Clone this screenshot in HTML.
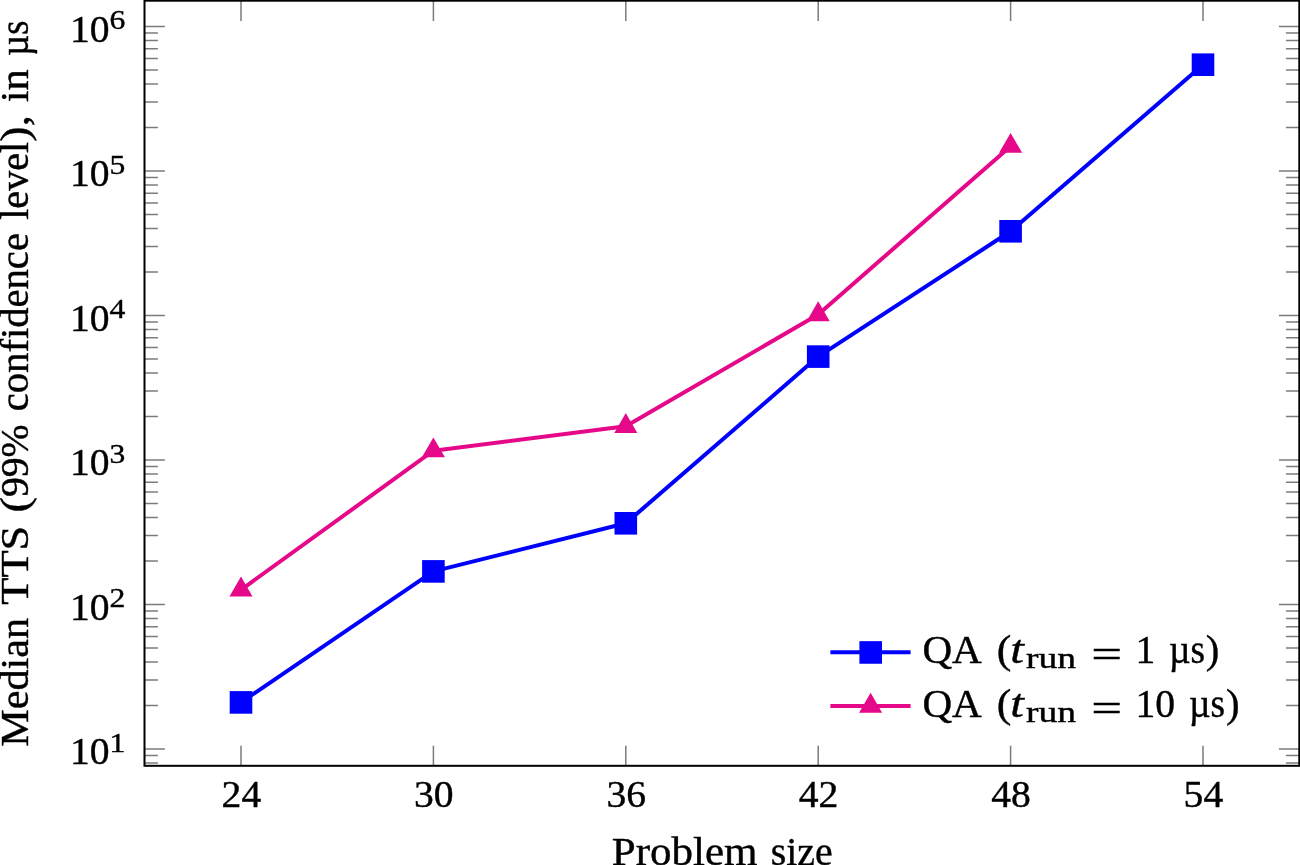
<!DOCTYPE html>
<html lang="en"><head><meta charset="utf-8"><title>Median TTS vs problem size</title>
<style>html,body{margin:0;padding:0;background:#fff;overflow:hidden}svg{display:block}text{fill:#000;stroke:#000;stroke-width:0.4px}</style></head><body>
<svg width="1300" height="865" viewBox="0 0 1300 865" font-family="'Liberation Serif', 'DejaVu Serif', serif">
<rect x="0" y="0" width="1300" height="865" fill="#fff"/>
<path stroke="#7c7c7c" stroke-width="1.5" fill="none" d="M241.00 765.80V745.80M241.00 0.70V21.00M433.40 765.80V745.80M433.40 0.70V21.00M625.80 765.80V745.80M625.80 0.70V21.00M818.20 765.80V745.80M818.20 0.70V21.00M1010.60 765.80V745.80M1010.60 0.70V21.00M1203.00 765.80V745.80M1203.00 0.70V21.00M144.50 762.96h13.4M1299.30 762.96h-13.4M144.50 755.57h13.4M1299.30 755.57h-13.4M144.50 748.96h20.4M1299.30 748.96h-20.4M144.50 705.46h13.4M1299.30 705.46h-13.4M144.50 680.02h13.4M1299.30 680.02h-13.4M144.50 661.96h13.4M1299.30 661.96h-13.4M144.50 647.96h13.4M1299.30 647.96h-13.4M144.50 636.52h13.4M1299.30 636.52h-13.4M144.50 626.84h13.4M1299.30 626.84h-13.4M144.50 618.46h13.4M1299.30 618.46h-13.4M144.50 611.07h13.4M1299.30 611.07h-13.4M144.50 604.46h20.4M1299.30 604.46h-20.4M144.50 560.96h13.4M1299.30 560.96h-13.4M144.50 535.52h13.4M1299.30 535.52h-13.4M144.50 517.46h13.4M1299.30 517.46h-13.4M144.50 503.46h13.4M1299.30 503.46h-13.4M144.50 492.02h13.4M1299.30 492.02h-13.4M144.50 482.34h13.4M1299.30 482.34h-13.4M144.50 473.96h13.4M1299.30 473.96h-13.4M144.50 466.57h13.4M1299.30 466.57h-13.4M144.50 459.96h20.4M1299.30 459.96h-20.4M144.50 416.46h13.4M1299.30 416.46h-13.4M144.50 391.02h13.4M1299.30 391.02h-13.4M144.50 372.96h13.4M1299.30 372.96h-13.4M144.50 358.96h13.4M1299.30 358.96h-13.4M144.50 347.52h13.4M1299.30 347.52h-13.4M144.50 337.84h13.4M1299.30 337.84h-13.4M144.50 329.46h13.4M1299.30 329.46h-13.4M144.50 322.07h13.4M1299.30 322.07h-13.4M144.50 315.46h20.4M1299.30 315.46h-20.4M144.50 271.96h13.4M1299.30 271.96h-13.4M144.50 246.52h13.4M1299.30 246.52h-13.4M144.50 228.46h13.4M1299.30 228.46h-13.4M144.50 214.46h13.4M1299.30 214.46h-13.4M144.50 203.02h13.4M1299.30 203.02h-13.4M144.50 193.34h13.4M1299.30 193.34h-13.4M144.50 184.96h13.4M1299.30 184.96h-13.4M144.50 177.57h13.4M1299.30 177.57h-13.4M144.50 170.96h20.4M1299.30 170.96h-20.4M144.50 127.46h13.4M1299.30 127.46h-13.4M144.50 102.02h13.4M1299.30 102.02h-13.4M144.50 83.96h13.4M1299.30 83.96h-13.4M144.50 69.96h13.4M1299.30 69.96h-13.4M144.50 58.52h13.4M1299.30 58.52h-13.4M144.50 48.84h13.4M1299.30 48.84h-13.4M144.50 40.46h13.4M1299.30 40.46h-13.4M144.50 33.07h13.4M1299.30 33.07h-13.4M144.50 26.46h20.4M1299.30 26.46h-20.4"/>
<rect x="144.5" y="0.7" width="1154.80" height="765.10" fill="none" stroke="#000" stroke-width="2"/>
<polyline points="241.00,589.80 433.40,450.70 625.80,426.30 818.20,314.50 1010.60,146.20" fill="none" stroke="#e5098a" stroke-width="4.0" stroke-linejoin="round"/>
<polyline points="241.00,702.40 433.40,571.40 625.80,523.30 818.20,356.60 1010.60,231.30 1203.00,64.70" fill="none" stroke="#0000ff" stroke-width="4.0" stroke-linejoin="round"/>
<path d="M241.00 576.50L229.48 596.45H252.52Z" fill="#e5098a"/>
<path d="M433.40 437.40L421.88 457.35H444.92Z" fill="#e5098a"/>
<path d="M625.80 413.00L614.28 432.95H637.32Z" fill="#e5098a"/>
<path d="M818.20 301.20L806.68 321.15H829.72Z" fill="#e5098a"/>
<path d="M1010.60 132.90L999.08 152.85H1022.12Z" fill="#e5098a"/>
<rect x="229.70" y="691.10" width="22.60" height="22.60" fill="#0000ff"/>
<rect x="422.10" y="560.10" width="22.60" height="22.60" fill="#0000ff"/>
<rect x="614.50" y="512.00" width="22.60" height="22.60" fill="#0000ff"/>
<rect x="806.90" y="345.30" width="22.60" height="22.60" fill="#0000ff"/>
<rect x="999.30" y="220.00" width="22.60" height="22.60" fill="#0000ff"/>
<rect x="1191.70" y="53.40" width="22.60" height="22.60" fill="#0000ff"/>
<path d="M830.4 652.3H910.6" stroke="#0000ff" stroke-width="4.0"/>
<rect x="859.40" y="641.15" width="22.60" height="22.60" fill="#0000ff"/>
<path d="M830.4 706.0H910.6" stroke="#e5098a" stroke-width="4.0"/>
<path d="M870.60 692.85L859.08 712.80H882.12Z" fill="#e5098a"/>
<text x="70.00" y="764.46" font-size="37.8" textLength="39.60" lengthAdjust="spacingAndGlyphs">10</text>
<text x="109.40" y="751.61" font-size="27.6" textLength="15.80" lengthAdjust="spacingAndGlyphs">1</text>
<text x="70.00" y="619.96" font-size="37.8" textLength="39.60" lengthAdjust="spacingAndGlyphs">10</text>
<text x="109.40" y="607.11" font-size="27.6" textLength="15.80" lengthAdjust="spacingAndGlyphs">2</text>
<text x="70.00" y="475.46" font-size="37.8" textLength="39.60" lengthAdjust="spacingAndGlyphs">10</text>
<text x="109.40" y="462.61" font-size="27.6" textLength="15.80" lengthAdjust="spacingAndGlyphs">3</text>
<text x="70.00" y="330.96" font-size="37.8" textLength="39.60" lengthAdjust="spacingAndGlyphs">10</text>
<text x="109.40" y="318.11" font-size="27.6" textLength="15.80" lengthAdjust="spacingAndGlyphs">4</text>
<text x="70.00" y="186.46" font-size="37.8" textLength="39.60" lengthAdjust="spacingAndGlyphs">10</text>
<text x="109.40" y="173.61" font-size="27.6" textLength="15.80" lengthAdjust="spacingAndGlyphs">5</text>
<text x="70.00" y="41.96" font-size="37.8" textLength="39.60" lengthAdjust="spacingAndGlyphs">10</text>
<text x="109.40" y="29.11" font-size="27.6" textLength="15.80" lengthAdjust="spacingAndGlyphs">6</text>
<text x="221.60" y="806.75" font-size="37.8" textLength="39.60" lengthAdjust="spacingAndGlyphs">24</text>
<text x="414.00" y="806.75" font-size="37.8" textLength="39.60" lengthAdjust="spacingAndGlyphs">30</text>
<text x="606.40" y="806.75" font-size="37.8" textLength="39.60" lengthAdjust="spacingAndGlyphs">36</text>
<text x="798.80" y="806.75" font-size="37.8" textLength="39.60" lengthAdjust="spacingAndGlyphs">42</text>
<text x="991.20" y="806.75" font-size="37.8" textLength="39.60" lengthAdjust="spacingAndGlyphs">48</text>
<text x="1183.60" y="806.75" font-size="37.8" textLength="39.60" lengthAdjust="spacingAndGlyphs">54</text>
<text x="611.70" y="865.40" font-size="40.0" textLength="145.90" lengthAdjust="spacingAndGlyphs">Problem</text>
<text x="770.80" y="865.40" font-size="40.0" textLength="61.80" lengthAdjust="spacingAndGlyphs">size</text>
<g transform="translate(28.2 746.7) rotate(-90)">
<text x="0.00" y="0.00" font-size="40.0" textLength="128.70" lengthAdjust="spacingAndGlyphs">Median</text>
<text x="141.89" y="0.00" font-size="40.0" textLength="79.20" lengthAdjust="spacingAndGlyphs">TTS</text>
<text x="234.27" y="0.00" font-size="40.0" textLength="15.40" lengthAdjust="spacingAndGlyphs">(</text>
<text x="249.68" y="0.00" font-size="40.0" textLength="39.60" lengthAdjust="spacingAndGlyphs">99</text>
<text x="289.28" y="0.00" font-size="40.0" textLength="33.00" lengthAdjust="spacingAndGlyphs">%</text>
<text x="335.45" y="0.00" font-size="40.0" textLength="178.20" lengthAdjust="spacingAndGlyphs">confidence</text>
<text x="526.84" y="0.00" font-size="40.0" textLength="78.09" lengthAdjust="spacingAndGlyphs">level</text>
<text x="604.93" y="0.00" font-size="40.0" textLength="15.40" lengthAdjust="spacingAndGlyphs">)</text>
<text x="620.33" y="0.00" font-size="40.0" textLength="11.00" lengthAdjust="spacingAndGlyphs">,</text>
<text x="644.53" y="0.00" font-size="40.0" textLength="33.03" lengthAdjust="spacingAndGlyphs">in</text>
<text x="690.74" y="0.00" font-size="40.0" textLength="35.36" lengthAdjust="spacingAndGlyphs">µs</text>
</g>
<text x="922.40" y="663.20" font-size="40.0" textLength="59.40" lengthAdjust="spacingAndGlyphs">QA</text>
<text x="996.80" y="663.20" font-size="40.0" textLength="14.60" lengthAdjust="spacingAndGlyphs">(</text>
<text x="1010.20" y="663.20" font-size="40.0" textLength="13.60" lengthAdjust="spacingAndGlyphs" font-style="italic">t</text>
<text x="1026.00" y="667.70" font-size="29.5" textLength="50.00" lengthAdjust="spacingAndGlyphs">run</text>
<text x="1091.20" y="668.20" font-size="40.0" textLength="30.80" lengthAdjust="spacingAndGlyphs">=</text>
<text x="1135.40" y="663.20" font-size="40.0" textLength="19.80" lengthAdjust="spacingAndGlyphs">1</text>
<text x="1169.00" y="663.20" font-size="40.0" textLength="36.00" lengthAdjust="spacingAndGlyphs">µs</text>
<text x="1205.80" y="663.20" font-size="40.0" textLength="13.60" lengthAdjust="spacingAndGlyphs">)</text>
<text x="922.40" y="717.00" font-size="40.0" textLength="59.40" lengthAdjust="spacingAndGlyphs">QA</text>
<text x="996.80" y="717.00" font-size="40.0" textLength="14.60" lengthAdjust="spacingAndGlyphs">(</text>
<text x="1010.20" y="717.00" font-size="40.0" textLength="13.60" lengthAdjust="spacingAndGlyphs" font-style="italic">t</text>
<text x="1026.00" y="721.50" font-size="29.5" textLength="50.00" lengthAdjust="spacingAndGlyphs">run</text>
<text x="1091.20" y="722.00" font-size="40.0" textLength="30.80" lengthAdjust="spacingAndGlyphs">=</text>
<text x="1135.40" y="717.00" font-size="40.0" textLength="39.60" lengthAdjust="spacingAndGlyphs">10</text>
<text x="1189.10" y="717.00" font-size="40.0" textLength="36.00" lengthAdjust="spacingAndGlyphs">µs</text>
<text x="1225.90" y="717.00" font-size="40.0" textLength="13.60" lengthAdjust="spacingAndGlyphs">)</text>
</svg></body></html>
